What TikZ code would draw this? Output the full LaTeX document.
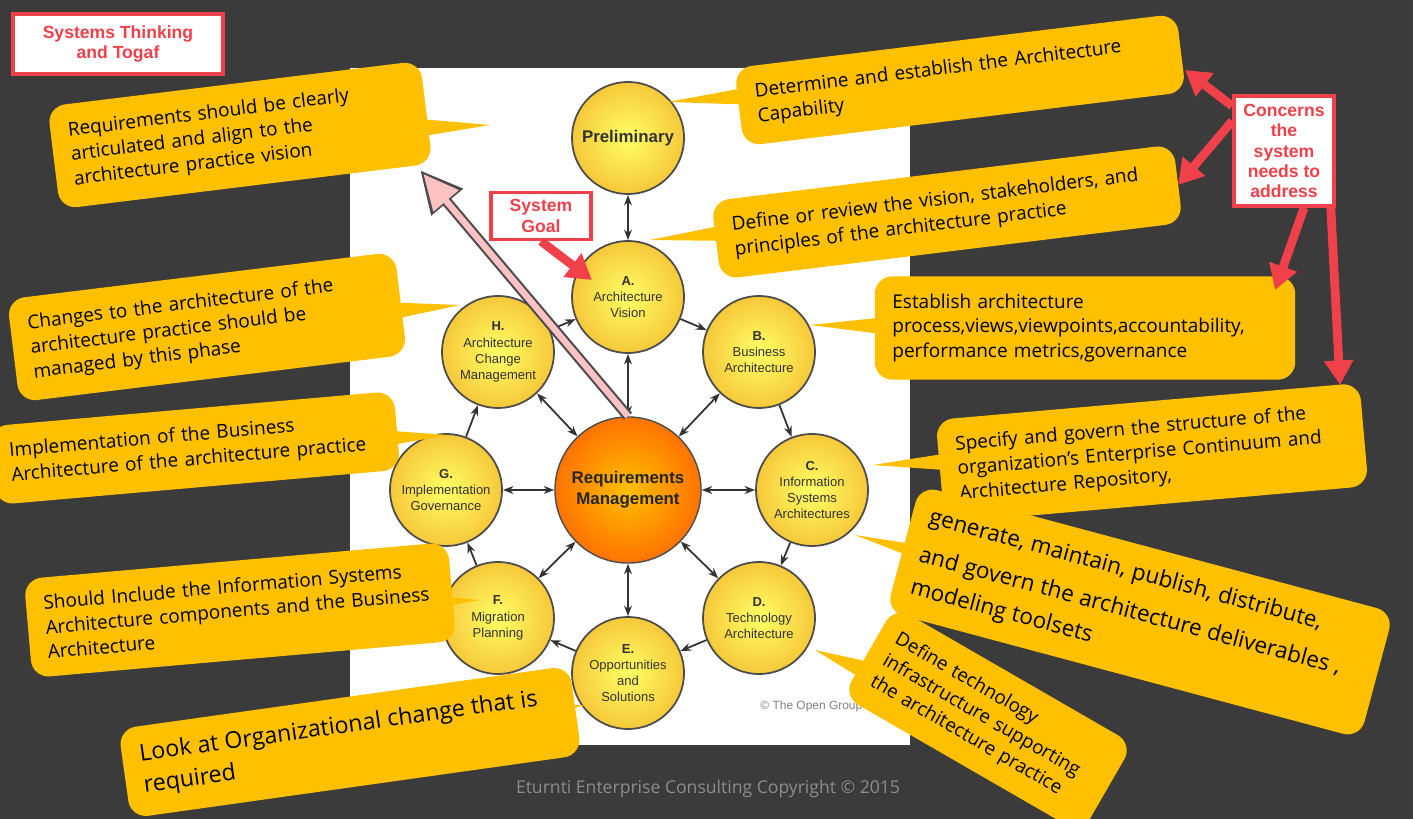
\documentclass[tikz,border=0pt]{standalone}
\usepackage{fontspec}
\setmainfont{Open Sans}
\newfontfamily\arialf{Liberation Sans}
\usetikzlibrary{calc,arrows.meta,shadings}
\definecolor{bg}{HTML}{3B3B3B}
\definecolor{cyel}{HTML}{FFC000}
\definecolor{cred}{HTML}{F0404A}
\definecolor{circ}{HTML}{F5D040}
\hyphenpenalty=10000 \exhyphenpenalty=10000
\begin{document}
\begin{tikzpicture}[x=0.01cm,y=-0.01cm,
  phase/.style={circle,draw=black!70,line width=0.5pt,minimum size=1.12cm,inner sep=0pt,
    inner color=yellow!60!white,outer color=circ!90!orange,align=center,
    font=\arialf\fontsize{3.7}{4.6}\selectfont,text=black!80},
  callout/.style={fill=cyel,rounded corners=5pt,align=left,inner sep=5pt,
    font=\fontsize{5.4}{7}\selectfont,text=black},
  redbox/.style={draw=cred,line width=1pt,fill=white,align=center,
    font=\arialf\bfseries\fontsize{5}{5.8}\selectfont,text=cred,inner sep=2pt},
  cyc/.style={-{Stealth[length=3pt]},black!80,line width=0.5pt},
  dbl/.style={{Stealth[length=3pt]}-{Stealth[length=3pt]},black!80,line width=0.5pt},
  redarr/.style={-{Triangle[length=7pt,width=8pt]},cred,line width=2.5pt}]
\fill[bg] (0,0) rectangle (1413,819);
\useasboundingbox (0,0) rectangle (1413,819);
\fill[white] (350,68) rectangle (910,745);
\node[font=\arialf\fontsize{3.4}{4}\selectfont,text=black!50,anchor=west] (og) at (748,706) {\textcopyright{} The Open Group};

% phases
\node[phase] (P) at (628,138) {\fontsize{4.8}{6}\selectfont\bfseries Preliminary};
\node[phase] (A) at (628,297) {\bfseries A.\\Architecture\\Vision};
\node[phase] (B) at (759,352) {\bfseries B.\\Business\\Architecture};
\node[phase] (C) at (812,490) {\bfseries C.\\Information\\Systems\\Architectures};
\node[phase] (D) at (759,618) {\bfseries D.\\Technology\\Architecture};
\node[phase] (E) at (628,673) {\bfseries E.\\Opportunities\\and\\Solutions};
\node[phase] (F) at (498,618) {\bfseries F.\\Migration\\Planning};
\node[phase] (G) at (446,490) {\bfseries G.\\Implementation\\Governance};
\node[phase] (H) at (498,352) {\bfseries H.\\Architecture\\Change\\Management};
\node[circle,draw=black!70,minimum size=1.46cm,inner sep=0pt,inner color=orange!50!yellow,outer color=orange!90!red,
  align=center,font=\arialf\bfseries\fontsize{4.8}{6}\selectfont,text=black!85] (R) at (628,490) {Requirements\\Management};
\draw[dbl] (P) -- (A);
\draw[cyc] (A) -- (B); \draw[cyc] (B) -- (C); \draw[cyc] (C) -- (D); \draw[cyc] (D) -- (E);
\draw[cyc] (E) -- (F); \draw[cyc] (F) -- (G); \draw[cyc] (G) -- (H); \draw[cyc] (H) -- (A);
\foreach \n in {A,B,C,D,E,F,G,H} \draw[dbl] (R) -- (\n);

% pink arrow
\coordinate (pk) at (420,170);
\draw[-{Triangle[length=12pt,width=11pt]},black!70,line width=3pt] (R.north) -- (pk);
\draw[-{Triangle[length=10pt,width=9pt]},pink!80!red!60,line width=1.8pt,shorten >=1.5pt] (R.north) -- (pk);

% callouts
\newcommand{\mycallout}[6]{% name, center, rot, textwidth, target, text
  \coordinate (#1t) at #5;
  \fill[cyel] ($#2!9pt!90:(#1t)$) -- (#1t) -- ($#2!9pt!-90:(#1t)$) -- cycle;
  \node[callout,rotate=#3,text width=#4] (#1) at #2 {#6};}
\mycallout{c1}{(240,135)}{7}{3.4cm}{(490,125)}{Requirements should be clearly articulated and align to the architecture practice vision}
\mycallout{c2}{(960,80)}{7}{4.1cm}{(668,102)}{Determine and establish the Architecture Capability}
\mycallout{c3}{(947,212)}{7}{4.3cm}{(650,240)}{Define or review the vision, stakeholders, and principles of the architecture practice}
\mycallout{c4}{(207,327)}{7}{3.55cm}{(460,305)}{Changes to the architecture of the architecture practice should be managed by this phase}
\mycallout{c5}{(1085,328)}{0}{3.85cm}{(810,325)}{Establish architecture\\process,views,viewpoints,accountability, performance metrics,governance}
\mycallout{c6}{(195,448)}{5}{3.7cm}{(448,435)}{Implementation of the Business Architecture of the architecture practice}
\mycallout{c7}{(1152,453)}{5}{3.9cm}{(873,465)}{Specify and govern the structure of the organization's Enterprise Continuum and Architecture Repository,}
\mycallout{c8}{(1140,612)}{-15}{4.55cm}{(855,535)}{\fontsize{6.4}{8.6}\selectfont generate, maintain, publish, distribute,\\[2.5pt] and govern the architecture deliverables ,\\[2.5pt] modeling toolsets}
\mycallout{c9}{(240,610)}{5}{3.9cm}{(480,600)}{Should Include the Information Systems Architecture components and the Business Architecture}
\mycallout{c10}{(350,742)}{8}{4.2cm}{(585,705)}{\fontsize{6.6}{8.2}\selectfont Look at Organizational change that is\\[2pt] required}
\mycallout{c11}{(988,720)}{-30}{2.4cm}{(815,650)}{Define technology infrastructure supporting the architecture practice}

% red labels
\node[redbox,minimum width=2.1cm,minimum height=0.6cm] (st) at (118,44) {Systems Thinking\\and Togaf};
\node[redbox,minimum width=1.0cm,minimum height=0.45cm] (sg) at (541,216) {System\\Goal};
\node[redbox,minimum width=1.0cm,minimum height=1.1cm] (cs) at (1284,151) {Concerns\\the\\system\\needs to\\address};
\coordinate (r1) at (1185,70);
\coordinate (r2) at (1178,185);
\coordinate (r3) at (1275,290);
\coordinate (r4) at (1340,385);
\coordinate (sgt) at (592,280);
\draw[redarr] (cs.west) ++(0,-45) -- (r1);
\draw[redarr] (cs.west) ++(0,-30) -- (r2);
\draw[redarr] (cs.south) ++(20,0) -- (r3);
\draw[redarr] (cs.south east) ++(-5,0) -- (r4);
\draw[redarr] (sg.south) -- (sgt);

\node[text=black!45,font=\fontsize{5}{6}\selectfont] (ft) at (708,789) {Eturnti Enterprise Consulting Copyright \textcopyright{} 2015};
\end{tikzpicture}
\end{document}
